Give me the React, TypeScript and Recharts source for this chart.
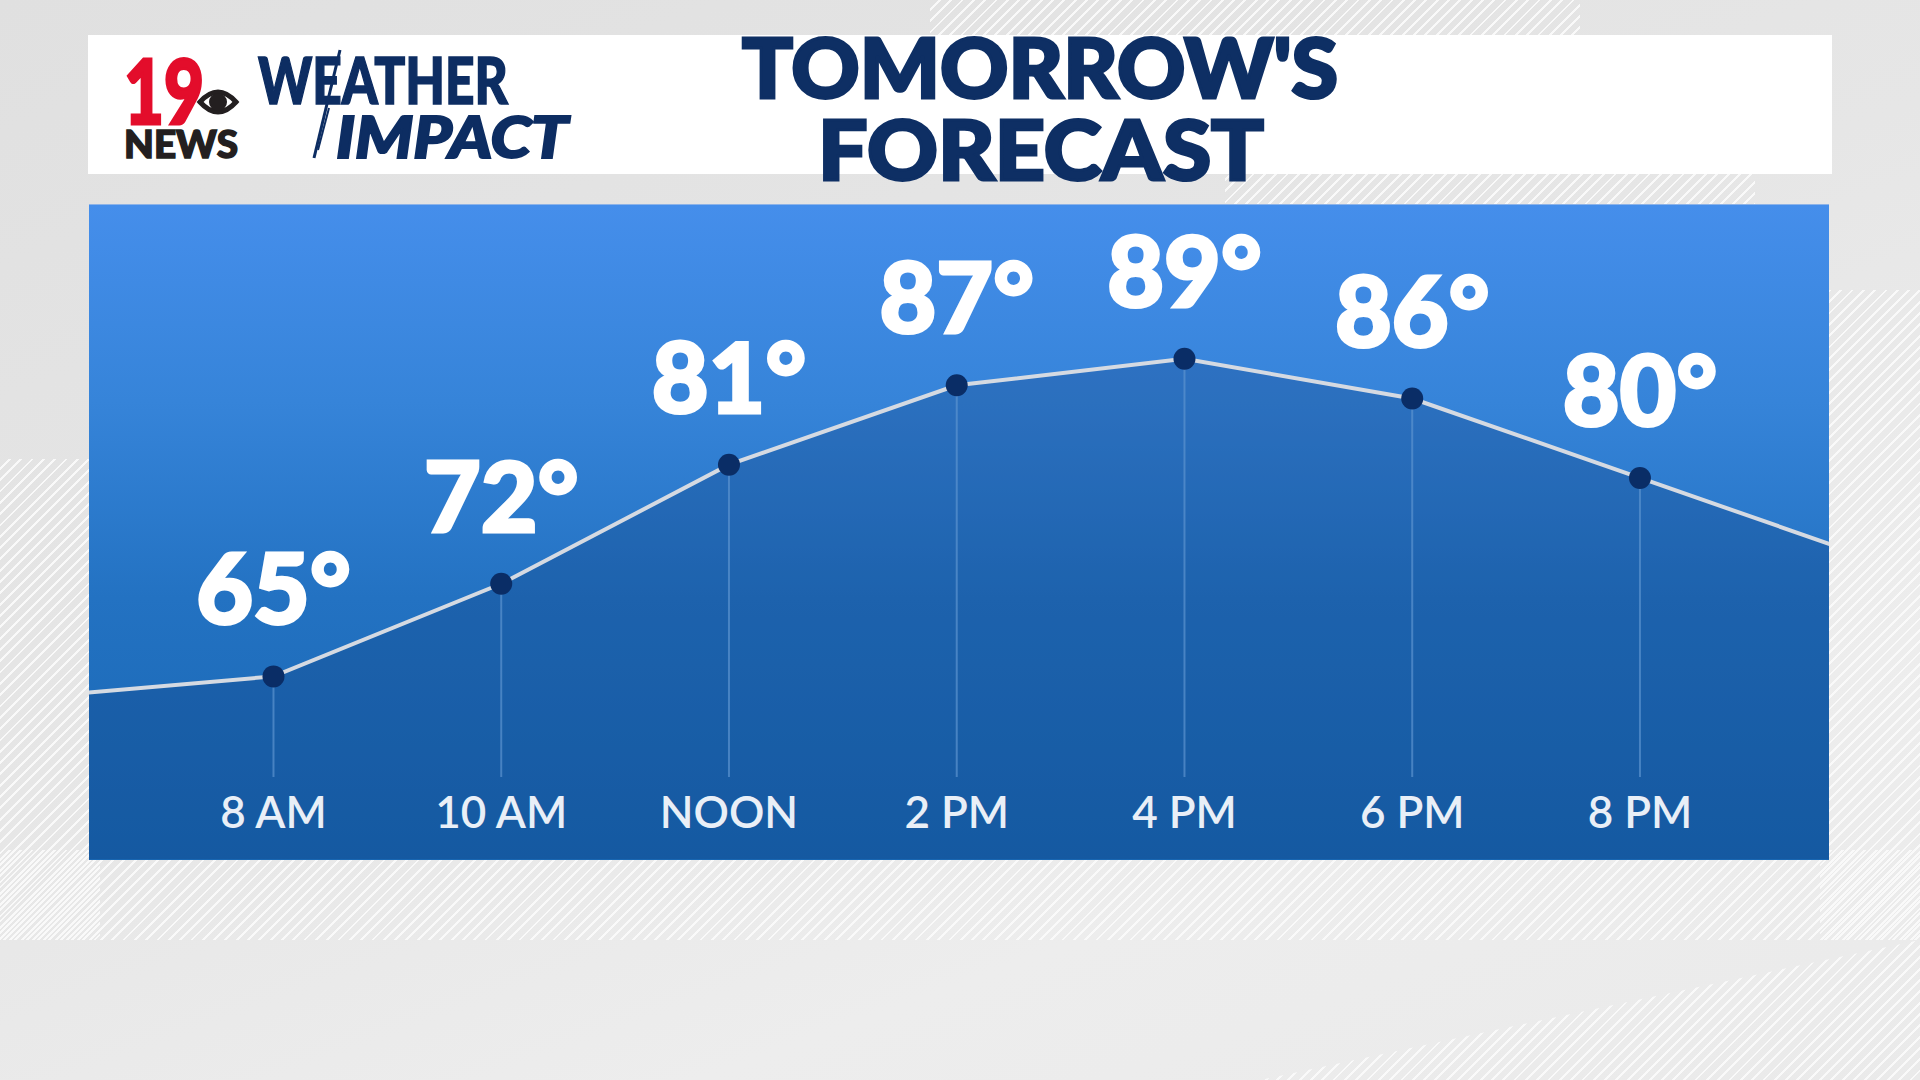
import React from 'react';
import { ComposedChart, Area, XAxis, YAxis, LabelList } from 'recharts';

// hours shown on the graphic (index 0..6), plus the off-panel points the line runs to
const hours = ['6 AM', '8 AM', '10 AM', 'NOON', '2 PM', '4 PM', '6 PM', '8 PM', '10 PM'];
const hourIndex = [-1, 0, 1, 2, 3, 4, 5, 6, 7];
const temps = [63.5, 65, 72, 81, 87, 89, 86, 80, 74];
const visible = [false, true, true, true, true, true, true, true, false];
const tickIndex = [0, 1, 2, 3, 4, 5, 6];

const data = hours.map((h, k) => ({ i: hourIndex[k], hour: h, temp: temps[k], show: visible[k] }));

const CHART_W = 1740;
const CHART_H = 656;
const DROP_BOTTOM = 573;
const TICK_BASELINE = 624;
const FONT = 'Lato, "Open Sans", sans-serif';

const hatch = (extra: React.CSSProperties): React.CSSProperties => ({
  position: 'absolute',
  backgroundImage:
    'repeating-linear-gradient(135deg, rgba(255,255,255,0) 0px, rgba(255,255,255,0) 6px, rgba(250,250,250,0.95) 6px, rgba(250,250,250,0.95) 8px)',
  ...extra,
});

const TempDot = (props: any) => {
  const { cx, cy, payload } = props;
  if (!payload || !payload.show || cx == null) return <g key={props.key} />;
  return (
    <g key={props.key}>
      <line x1={cx} y1={cy} x2={cx} y2={DROP_BOTTOM} stroke="#5B93CF" strokeOpacity={0.7} strokeWidth={2} />
      <circle cx={cx} cy={cy} r={11} fill="#0A2D66" />
    </g>
  );
};

const TempLabel = (props: any) => {
  const { x, y, value, index } = props;
  if (!data[index] || !data[index].show) return null;
  return (
    <text
      x={x}
      y={y - 52}
      textAnchor="middle"
      fill="#FFFFFF"
      stroke="#FFFFFF"
      strokeWidth={3}
      fontFamily={FONT}
      fontWeight={900}
      fontSize={98}
    >
      {`${value}°`}
    </text>
  );
};

const HourTick = (props: any) => {
  const { x, payload } = props;
  const row = data.find((d) => d.i === payload.value);
  return (
    <text
      x={x}
      y={TICK_BASELINE}
      textAnchor="middle"
      fill="#E9EFF7"
      fontFamily={FONT}
      fontWeight={600}
      fontSize={44}
    >
      {row ? row.hour : ''}
    </text>
  );
};

const Header = () => (
  <svg width={1920} height={200} style={{ position: 'absolute', left: 0, top: 0 }}>
    <rect x={88} y={35} width={1744} height={139} fill="#FFFFFF" />
    {/* logo */}
    <text x={124} y={124} fill="#E30D2B" stroke="#E30D2B" strokeWidth={3} fontFamily={FONT} fontWeight={900} fontSize={90} textLength={80} lengthAdjust="spacingAndGlyphs">
      19
    </text>
    <path d="M200 102 Q218 82 236 102 Q218 122 200 102 Z" fill="#FFFFFF" stroke="#231F20" strokeWidth={5} />
    <circle cx={218} cy={102} r={9} fill="#231F20" />
    <text x={124} y={158} fill="#231F20" stroke="#231F20" strokeWidth={1.5} fontFamily={FONT} fontWeight={900} fontSize={38} textLength={114} lengthAdjust="spacingAndGlyphs">
      NEWS
    </text>
    <text x={258} y={104} fill="#0D2D62" stroke="#0D2D62" strokeWidth={1.5} fontFamily={FONT} fontWeight={900} fontSize={64} textLength={250} lengthAdjust="spacingAndGlyphs">
      WEATHER
    </text>
    <text x={336} y={158} fill="#0D2D62" stroke="#0D2D62" strokeWidth={2} fontFamily={FONT} fontWeight={900} fontStyle="italic" fontSize={58} textLength={232} lengthAdjust="spacingAndGlyphs">
      IMPACT
    </text>
    <line x1={340} y1={50} x2={314} y2={158} stroke="#0D2D62" strokeWidth={3} />
    <line x1={329} y1={108} x2={318} y2={150} stroke="#0D2D62" strokeWidth={2} />
    {/* title */}
    <text x={1040} y={98} textAnchor="middle" fill="#0E2F64" stroke="#0E2F64" strokeWidth={3} fontFamily={FONT} fontWeight={900} fontSize={82} textLength={596} lengthAdjust="spacingAndGlyphs">
      TOMORROW'S
    </text>
    <text x={1041} y={180} textAnchor="middle" fill="#0E2F64" stroke="#0E2F64" strokeWidth={3} fontFamily={FONT} fontWeight={900} fontSize={82} textLength={446} lengthAdjust="spacingAndGlyphs">
      FORECAST
    </text>
  </svg>
);

export default function App() {
  return (
    <div
      style={{
        position: 'fixed',
        left: 0,
        top: 0,
        width: 1920,
        height: 1080,
        overflow: 'hidden',
        background: 'linear-gradient(160deg, #E0E0E0 0%, #E6E6E6 45%, #EDEDED 75%, #EAEAEA 100%)',
      }}
    >
      {/* striped backdrop */}
      <div style={hatch({ left: 0, top: 459, width: 100, height: 481 })} />
      <div style={hatch({ left: 0, top: 850, width: 1920, height: 90 })} />
      <div style={hatch({ left: 1820, top: 290, width: 100, height: 650 })} />
      <div style={hatch({ left: 930, top: 0, width: 650, height: 40 })} />
      <div style={hatch({ left: 1225, top: 170, width: 530, height: 40 })} />
      <div style={hatch({ left: 1260, top: 940, width: 660, height: 140, clipPath: 'polygon(0 100%, 100% 0, 100% 100%)' })} />

      <Header />

      {/* chart panel */}
      <div
        style={{
          position: 'absolute',
          left: 89,
          top: 204,
          width: CHART_W,
          height: CHART_H,
          background: 'linear-gradient(180deg, #458EEB 0%, #3684D9 30%, #2372C2 60%, #1866B2 100%)',
          borderTop: '1px solid #8DB3E8',
          boxSizing: 'border-box',
        }}
      />
      <div style={{ position: 'absolute', left: 89, top: 204 }}>
        <ComposedChart width={CHART_W} height={CHART_H} data={data} margin={{ top: 0, right: 0, bottom: 0, left: 0 }}>
          <XAxis
            type="number"
            dataKey="i"
            domain={[-0.81, 6.83]}
            allowDataOverflow
            ticks={tickIndex}
            axisLine={false}
            tickLine={false}
            height={1}
            tick={<HourTick />}
            interval={0}
          />
          <YAxis hide domain={[51.2, 100.7]} allowDataOverflow />
          <Area
            type="linear"
            dataKey="temp"
            stroke="#D5DAE2"
            strokeWidth={4}
            fill="#0A3570"
            fillOpacity={0.25}
            dot={<TempDot />}
            activeDot={false}
            isAnimationActive={false}
          >
            <LabelList dataKey="temp" content={<TempLabel />} />
          </Area>
        </ComposedChart>
      </div>
    </div>
  );
}
